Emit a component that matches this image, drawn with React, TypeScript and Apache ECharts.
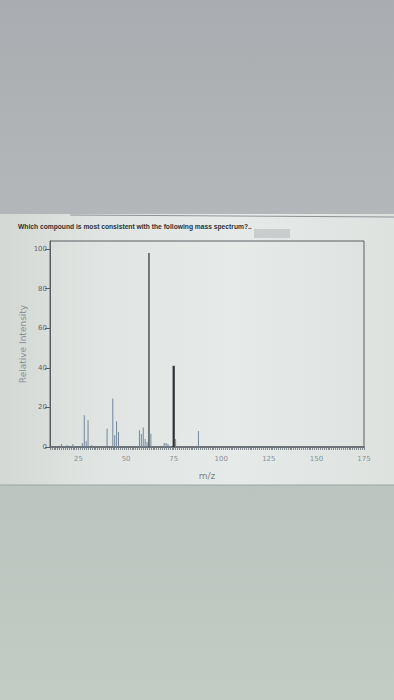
import React, { useEffect, useRef } from "react";
import * as echarts from "echarts";

// m/z positions and relative intensities
const mz = [16, 19, 22, 27, 28, 29, 30, 32, 40, 43, 44, 45, 46, 57, 58, 59, 60, 61, 62, 63, 70, 71, 72, 75, 76, 88];
const intensity = [1.5, 1, 1.5, 2, 16, 3, 13.5, 1, 9.3, 24.5, 6, 13, 7.6, 8.5, 6.5, 9.8, 4, 2.5, 98, 6.7, 2, 2, 1.5, 41, 4, 8];

const xLabels = [25, 50, 75, 100, 125, 150, 175];
const yLabels = [0, 20, 40, 60, 80, 100];
const xMin = 10;
const xMax = 175;
const yMax = 104;

const title = "Which compound is most consistent with the following mass spectrum?..";

export default function App() {
  const ref = useRef<HTMLDivElement>(null);

  useEffect(() => {
    if (!ref.current) return;
    const chart = echarts.init(ref.current, null, { renderer: "svg" });

    const rulerTicks: number[] = [];
    for (let v = xMin; v <= xMax; v += 1) rulerTicks.push(v);

    const data = mz.map((m, i) => [m, intensity[i]]);

    chart.setOption({
      animation: false,
      backgroundColor: {
        type: "linear", x: 0, y: 0, x2: 0, y2: 1,
        colorStops: [
          { offset: 0, color: "#a9adb1" },
          { offset: 0.306, color: "#b3b7b9" },
          { offset: 0.307, color: "#d9ddda" },
          { offset: 0.692, color: "#e2e6e4" },
          { offset: 0.693, color: "#bcc4bf" },
          { offset: 1, color: "#c3cbc5" },
        ],
      },
      graphic: [
        {
          type: "rect",
          shape: { x: 0, y: 214, width: 394, height: 271 },
          style: {
            fill: {
              type: "linear", x: 0, y: 0, x2: 1, y2: 0,
              colorStops: [
                { offset: 0, color: "#d4d8d4" },
                { offset: 0.25, color: "#e0e5e3" },
                { offset: 0.6, color: "#e6ebea" },
                { offset: 1, color: "#dde2df" },
              ],
            },
          },
          z: -10,
          silent: true,
        },
        {
          type: "line",
          shape: { x1: 70, y1: 215, x2: 394, y2: 217 },
          style: { stroke: "#8d9295", lineWidth: 1 },
          z: -5,
        },
        {
          type: "line",
          shape: { x1: 0, y1: 485, x2: 394, y2: 485 },
          style: { stroke: "#9fa6a2", lineWidth: 1 },
          z: -5,
        },
        {
          type: "rect",
          shape: { x: 254, y: 229, width: 36, height: 9 },
          style: { fill: "#c9cdcd" },
          z: -4,
        },
        {
          type: "text",
          x: 18,
          y: 226,
          style: {
            text: title,
            font: "bold 6.7px 'Liberation Sans', Arial, sans-serif",
            fill: "#2e3236",
            textVerticalAlign: "middle",
          },
        },
      ],
      grid: {
        left: 50,
        right: 30,
        top: 241,
        bottom: 253,
        show: true,
        borderColor: "#5a5e62",
        borderWidth: 1,
        backgroundColor: "transparent",
      },
      xAxis: {
        type: "value",
        min: xMin,
        max: xMax,
        name: "m/z",
        nameLocation: "middle",
        nameGap: 24,
        nameMoveOverlap: false,
        nameTextStyle: { color: "#7c8288", fontSize: 9, fontFamily: "DejaVu Sans" },
        axisLine: { lineStyle: { color: "#5f656b", width: 1.5 } },
        axisTick: { customValues: rulerTicks, length: 3, lineStyle: { color: "#6b7279", width: 0.8 } },
        axisLabel: {
          customValues: xLabels,
          color: "#8a9096",
          fontSize: 7,
          fontFamily: "DejaVu Sans",
          margin: 8,
        },
        splitLine: { show: false },
      },
      yAxis: {
        type: "value",
        min: 0,
        max: yMax,
        name: "Relative Intensity",
        nameLocation: "middle",
        nameGap: 23,
        nameMoveOverlap: false,
        nameTextStyle: { color: "#8a9096", fontSize: 9, fontFamily: "DejaVu Sans" },
        axisLine: { show: true, lineStyle: { color: "#5a5e62", width: 1 } },
        axisTick: { customValues: yLabels, length: 5, lineStyle: { color: "#5a5e62" } },
        minorTick: { show: false },
        axisLabel: {
          customValues: yLabels,
          color: "#5f656b",
          fontSize: 7,
          fontFamily: "DejaVu Sans",
          margin: 3,
        },
        splitLine: { show: false },
      },
      series: [
        {
          type: "custom",
          data,
          renderItem: (params: any, api: any) => {
            const m = api.value(0);
            const h = api.value(1);
            const p0 = api.coord([m, 0]);
            const p1 = api.coord([m, h]);
            let stroke = "#71879a";
            let width = 1;
            if (h > 60) {
              stroke = "#4f5459";
              width = 1.5;
            } else if (h > 30) {
              stroke = "#2b3034";
              width = 2.2;
            }
            return {
              type: "line",
              shape: { x1: p0[0], y1: p0[1], x2: p1[0], y2: p1[1] },
              style: { stroke, lineWidth: width },
            };
          },
        },
      ],
    });

    return () => chart.dispose();
  }, []);

  return (
    <div
      ref={ref}
      style={{ position: "fixed", left: 0, top: 0, width: 394, height: 700 }}
    />
  );
}
